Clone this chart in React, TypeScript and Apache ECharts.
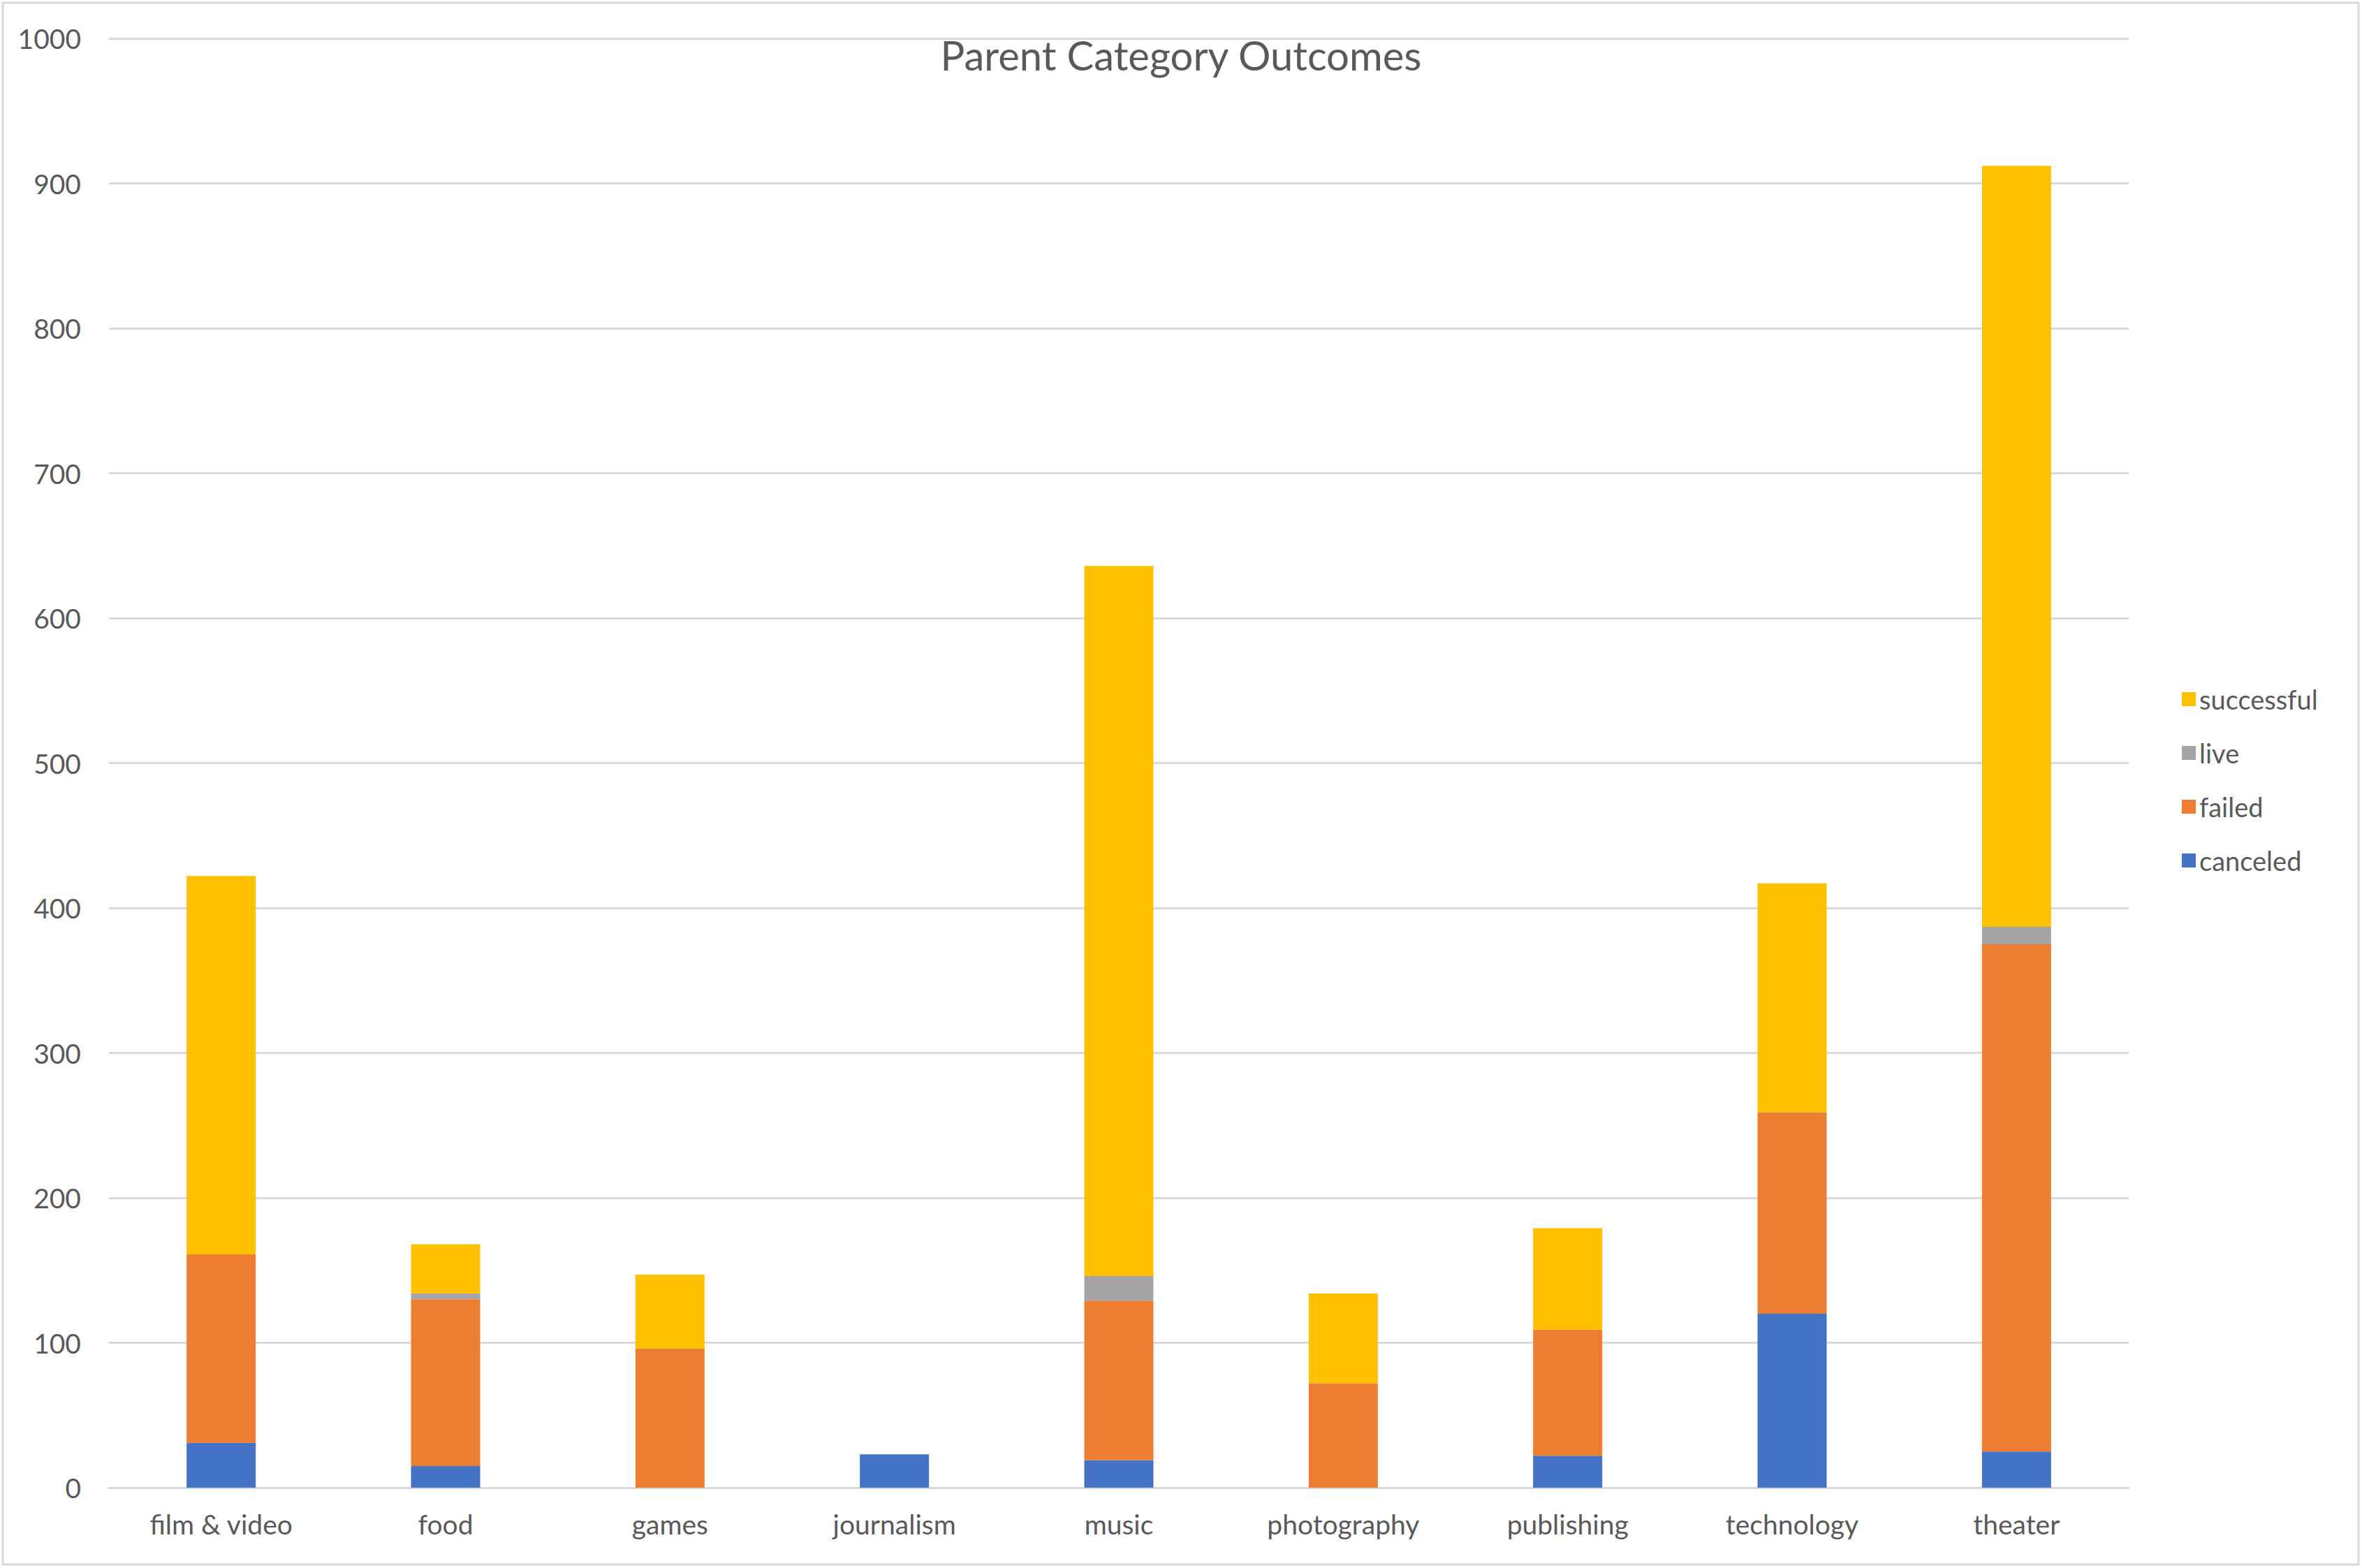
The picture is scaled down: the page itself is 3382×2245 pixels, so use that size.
import React, { useEffect, useRef } from "react";
import * as echarts from "echarts";

const categories = ["film & video", "food", "games", "journalism", "music", "photography", "publishing", "technology", "theater"];
const canceled = [31, 15, 0, 23, 19, 0, 22, 120, 25];
const failed = [130, 115, 96, 0, 110, 72, 87, 139, 350];
const live = [0, 4, 0, 0, 17, 0, 0, 0, 12];
const successful = [261, 34, 51, 0, 490, 62, 70, 158, 525];

const FONT = "Lato, 'Open Sans', sans-serif";
const TEXT = "#595959";
const GRID = "#d9d9d9";

const App = () => {
  const chartRef = useRef<HTMLDivElement>(null);

  useEffect(() => {
    document.body.style.margin = "0";
    const myChart = echarts.init(chartRef.current!, null, { renderer: "svg" });
    const bar = (name: string, data: number[], color: string) => ({
      name,
      type: "bar",
      stack: "total",
      barWidth: 99,
      data,
      itemStyle: { color },
    });
    const option = {
      animation: false,
      backgroundColor: "#ffffff",
      title: {
        text: "Parent Category Outcomes",
        left: "center",
        top: 44,
        textStyle: { fontFamily: FONT, fontSize: 58, fontWeight: "normal", color: TEXT },
      },
      legend: {
        orient: "vertical",
        left: 3119,
        top: 976,
        itemWidth: 20,
        itemHeight: 20,
        itemGap: 37,
        icon: "rect",
        data: ["successful", "live", "failed", "canceled"],
        textStyle: { fontFamily: FONT, fontSize: 38, color: TEXT, lineHeight: 40 },
      },
      graphic: [
        {
          type: "rect",
          shape: { x: 4, y: 4, width: 3373, height: 2236 },
          style: { fill: "none", stroke: GRID, lineWidth: 3 },
          silent: true,
        },
      ],
      grid: { left: 156, right: 334, top: 55, bottom: 115 },
      xAxis: {
        type: "category",
        data: categories,
        axisLine: { lineStyle: { color: GRID, width: 3 } },
        axisTick: { show: false },
        axisLabel: { fontFamily: FONT, fontSize: 39, color: TEXT, margin: 32 },
      },
      yAxis: {
        type: "value",
        min: 0,
        max: 1000,
        interval: 100,
        axisLine: { show: false },
        axisTick: { show: false },
        splitLine: { lineStyle: { color: GRID, width: 3 } },
        axisLabel: {
          fontFamily: FONT,
          fontSize: 39,
          color: TEXT,
          margin: 40,
          formatter: (v: number) => String(v),
        },
      },
      series: [
        bar("canceled", canceled, "#4472C4"),
        bar("failed", failed, "#ED7D31"),
        bar("live", live, "#A5A5A5"),
        bar("successful", successful, "#FFC000"),
      ],
    };
    myChart.setOption(option);
    return () => {
      myChart.dispose();
    };
  }, []);

  return <div ref={chartRef} style={{ width: 3382, height: 2245 }}></div>;
};

export default App;
